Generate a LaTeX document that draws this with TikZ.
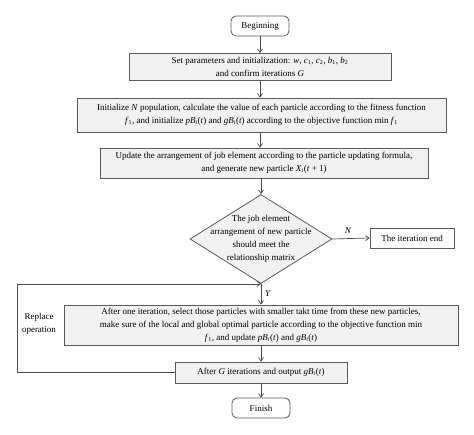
\documentclass[tikz,border=0pt]{standalone}
\usepackage{fontspec}
\setmainfont{Liberation Serif}
\usetikzlibrary{shapes.geometric,arrows.meta}
\definecolor{boxc}{HTML}{5A5A5A}
\definecolor{linec}{HTML}{4A4A4A}
\definecolor{boxfill}{HTML}{F1F1F1}
\newcommand{\sub}[1]{\textsubscript{#1}}
\begin{document}
\begin{tikzpicture}[x=1pt,y=-1pt,
  box/.style={draw=boxc, line width=0.8pt, fill=boxfill, align=center, inner sep=0pt,
    font=\fontsize{9}{13}\selectfont, text=black},
  term/.style={box, rounded corners=5pt, fill=white},
  txt/.style={align=center, inner sep=0pt, font=\fontsize{9}{13}\selectfont, text=black},
  arr/.style={draw=linec, line width=0.7pt, -{Straight Barb[length=3.5pt,width=5pt]}},
  ln/.style={draw=linec, line width=0.7pt}]
\useasboundingbox (0,0) rectangle (474,435);
\node[term, minimum width=58pt, minimum height=20pt] (begin) at (260,26) {Beginning};
\node[box, minimum width=262pt, minimum height=27pt] (set) at (260,67)
  {Set parameters and initialization: \textit{w}, \textit{c}\sub{1}, \textit{c}\sub{2}, \textit{b}\sub{1}, \textit{b}\sub{2}\\and confirm iterations \textit{G}};
\node[box, minimum width=369pt, minimum height=34pt] (init) at (261.5,115)
  {Initialize \textit{N} population, calculate the value of each particle according to the fitness function\\
   \textit{f}\sub{1}, and initialize \textit{pB}\sub{\textit{i}}(\textit{t}) and \textit{gB}\sub{\textit{i}}(\textit{t}) according to the objective function min \textit{f}\sub{1}};
\node[box, minimum width=328pt, minimum height=30pt] (upd) at (264,163)
  {Update the arrangement of job element according to the particle updating formula,\\
   and generate new particle \textit{X}\sub{\textit{i}}(\textit{t} + 1)};
\node[box, diamond, minimum width=142pt, minimum height=89pt] (dia) at (261,239) {};
\node[txt] (diatxt) at (261,238.5) {The job element\\arrangement of new particle\\should meet the\\relationship matrix};
\node[box, fill=white, minimum width=84pt, minimum height=20pt] (iend) at (412,238) {The iteration end};
\node[box, minimum width=394pt, minimum height=40pt] (big) at (261,325)
  {After one iteration, select those particles with smaller takt time from these new particles,\\
   make sure of the local and global optimal particle according to the objective function min\\
   \textit{f}\sub{1}, and update \textit{pB}\sub{\textit{i}}(\textit{t}) and \textit{gB}\sub{\textit{i}}(\textit{t})};
\node[box, minimum width=172pt, minimum height=21pt] (aftg) at (261,372.5)
  {After \textit{G} iterations and output \textit{gB}\sub{\textit{i}}(\textit{t})};
\node[term, minimum width=58pt, minimum height=20pt] (fin) at (261,408) {Finish};
\node[txt] (repl) at (39,323.5) {Replace\\operation};
\node[txt] (nlab) at (348,231) {\textit{N}};
\node[txt] (ylab) at (268,294) {\textit{Y}};
\coordinate (lx) at (17,0);
\draw[arr] (begin.south) -- (set.north);
\draw[arr] (set.south) -- (set.south |- init.north);
\draw[arr] (set.south |- init.south) -- (set.south |- upd.north);
\draw[arr] (upd.south -| dia.north) -- (dia.north);
\draw[arr] (dia.east) -- (iend.west);
\draw[arr] (dia.south) -- (dia.south |- big.north);
\draw[arr] (big.south) -- (aftg.north);
\draw[arr] (aftg.south) -- (fin.north);
\draw[arr] (aftg.west) -- (aftg.west -| lx) |- (dia.south);
\end{tikzpicture}
\end{document}
